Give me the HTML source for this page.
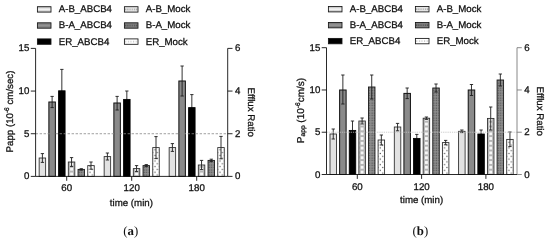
<!DOCTYPE html>
<html><head><meta charset="utf-8"><title>Figure</title>
<style>
html,body{margin:0;padding:0;background:#fff;}
svg{display:block;}
text{text-rendering:geometricPrecision;font-family:"Liberation Sans",Arial,sans-serif;font-size:9.7px;fill:#111;stroke:#111;stroke-width:0.28px;}
.cap{font-family:"Liberation Serif","Times New Roman",serif;font-size:12.8px;fill:#111;stroke:none;}
</style></head>
<body>
<svg width="550" height="240" viewBox="0 0 550 240">
<defs>
<pattern id="pABm" width="6.5" height="4.8" patternUnits="userSpaceOnUse"><rect width="6.5" height="4.8" fill="#b6b6b6"/><rect x="1.8" y="1" width="2.9" height="2.8" fill="#f8f8f8"/><rect x="-1" y="3.4" width="2" height="1.4" fill="#d4d4d4"/><rect x="5.5" y="3.4" width="2" height="1.4" fill="#d4d4d4"/><rect x="-1" y="0" width="2" height="0.6" fill="#d4d4d4"/><rect x="5.5" y="0" width="2" height="0.6" fill="#d4d4d4"/></pattern>
<pattern id="pBAm" width="2.5" height="2.5" patternUnits="userSpaceOnUse"><rect width="2.5" height="2.5" fill="#8e8e8e"/><rect x="0.5" y="0.5" width="1.25" height="1.25" fill="#565656"/></pattern>
<pattern id="pERm" width="4.8" height="5.6" patternUnits="userSpaceOnUse"><rect width="4.8" height="5.6" fill="#fff"/><rect x="1.6" y="0.8" width="1.2" height="1.2" fill="#555"/><rect x="4" y="3.6" width="1.2" height="1.2" fill="#555"/><rect x="-0.8" y="3.6" width="1.2" height="1.2" fill="#555"/></pattern>
<pattern id="lABm" width="2.2" height="5.4" patternUnits="userSpaceOnUse"><rect width="2.2" height="5.4" fill="#e6e6e6"/><rect x="0.7" y="2.2" width="1.1" height="1.1" fill="#8a8a8a"/></pattern>
<pattern id="lBAm" width="2.2" height="5.4" patternUnits="userSpaceOnUse"><rect width="2.2" height="5.4" fill="#7e7e7e"/><rect x="0.7" y="2.1" width="1.1" height="1.3" fill="#484848"/></pattern>
<pattern id="lERm" width="2.6" height="5.4" patternUnits="userSpaceOnUse"><rect width="2.6" height="5.4" fill="#fff"/><rect x="0.9" y="2.2" width="1" height="1" fill="#a0a0a0"/></pattern>
<pattern id="lAB" width="4" height="5.4" patternUnits="userSpaceOnUse"><rect width="4" height="5.4" fill="#c4c4c4"/><rect y="1.5" width="4" height="2.4" fill="#f2f2f2"/></pattern>
<pattern id="lBA" width="4" height="5.4" patternUnits="userSpaceOnUse"><rect width="4" height="5.4" fill="#808080"/><rect y="2.1" width="4" height="1.2" fill="#9c9c9c"/></pattern>
</defs>
<rect width="550" height="240" fill="#fff"/>
<path d="M42.40 153.60V162.40M40.75 153.60h3.3M40.75 162.40h3.3" stroke="#1c1c1c" stroke-width="0.9" fill="none"/>
<rect transform="translate(39.15 176.40)" x="0" y="-18.40" width="6.5" height="18.40" fill="#e2e2e2" stroke="#2a2a2a" stroke-width="0.85"/>
<path d="M42.40 158.00V162.40M40.75 162.40h3.3" stroke="#1c1c1c" stroke-width="0.9" fill="none"/>
<path d="M52.12 96.40V107.60M50.47 96.40h3.3M50.47 107.60h3.3" stroke="#1c1c1c" stroke-width="0.9" fill="none"/>
<rect transform="translate(48.87 176.40)" x="0" y="-74.40" width="6.5" height="74.40" fill="#8a8a8a" stroke="#101010" stroke-width="1.0"/>
<path d="M52.12 102.00V107.60M50.47 107.60h3.3" stroke="#1c1c1c" stroke-width="0.9" fill="none"/>
<path d="M61.84 69.40V112.00M60.19 69.40h3.3M60.19 112.00h3.3" stroke="#1c1c1c" stroke-width="0.9" fill="none"/>
<rect transform="translate(58.59 176.40)" x="0" y="-85.60" width="6.5" height="85.60" fill="#000" stroke="#000" stroke-width="0.85"/>
<path d="M71.56 157.60V166.40M69.91 157.60h3.3M69.91 166.40h3.3" stroke="#1c1c1c" stroke-width="0.9" fill="none"/>
<rect transform="translate(68.31 176.40)" x="0" y="-14.40" width="6.5" height="14.40" fill="url(#pABm)" stroke="#2a2a2a" stroke-width="0.85"/>
<path d="M71.56 162.00V166.40M69.91 166.40h3.3" stroke="#1c1c1c" stroke-width="0.9" fill="none"/>
<path d="M81.28 168.70V170.10M79.63 168.70h3.3M79.63 170.10h3.3" stroke="#1c1c1c" stroke-width="0.9" fill="none"/>
<rect transform="translate(78.03 176.40)" x="0" y="-7.00" width="6.5" height="7.00" fill="url(#pBAm)" stroke="#1a1a1a" stroke-width="0.9"/>
<path d="M81.28 169.40V170.10M79.63 170.10h3.3" stroke="#1c1c1c" stroke-width="0.9" fill="none"/>
<path d="M91.00 162.00V169.20M89.35 162.00h3.3M89.35 169.20h3.3" stroke="#1c1c1c" stroke-width="0.9" fill="none"/>
<rect transform="translate(87.75 176.40)" x="0" y="-10.80" width="6.5" height="10.80" fill="url(#pERm)" stroke="#2a2a2a" stroke-width="0.85"/>
<path d="M91.00 165.60V169.20M89.35 169.20h3.3" stroke="#1c1c1c" stroke-width="0.9" fill="none"/>
<path d="M107.40 153.00V160.00M105.75 153.00h3.3M105.75 160.00h3.3" stroke="#1c1c1c" stroke-width="0.9" fill="none"/>
<rect transform="translate(104.15 176.40)" x="0" y="-19.80" width="6.5" height="19.80" fill="#e2e2e2" stroke="#2a2a2a" stroke-width="0.85"/>
<path d="M107.40 156.60V160.00M105.75 160.00h3.3" stroke="#1c1c1c" stroke-width="0.9" fill="none"/>
<path d="M117.12 96.40V110.00M115.47 96.40h3.3M115.47 110.00h3.3" stroke="#1c1c1c" stroke-width="0.9" fill="none"/>
<rect transform="translate(113.87 176.40)" x="0" y="-73.40" width="6.5" height="73.40" fill="#8a8a8a" stroke="#101010" stroke-width="1.0"/>
<path d="M117.12 103.00V110.00M115.47 110.00h3.3" stroke="#1c1c1c" stroke-width="0.9" fill="none"/>
<path d="M126.84 91.00V108.00M125.19 91.00h3.3M125.19 108.00h3.3" stroke="#1c1c1c" stroke-width="0.9" fill="none"/>
<rect transform="translate(123.59 176.40)" x="0" y="-77.00" width="6.5" height="77.00" fill="#000" stroke="#000" stroke-width="0.85"/>
<path d="M136.56 165.60V171.60M134.91 165.60h3.3M134.91 171.60h3.3" stroke="#1c1c1c" stroke-width="0.9" fill="none"/>
<rect transform="translate(133.31 176.40)" x="0" y="-7.80" width="6.5" height="7.80" fill="url(#pABm)" stroke="#2a2a2a" stroke-width="0.85"/>
<path d="M136.56 168.60V171.60M134.91 171.60h3.3" stroke="#1c1c1c" stroke-width="0.9" fill="none"/>
<path d="M146.28 164.60V166.60M144.63 164.60h3.3M144.63 166.60h3.3" stroke="#1c1c1c" stroke-width="0.9" fill="none"/>
<rect transform="translate(143.03 176.40)" x="0" y="-10.80" width="6.5" height="10.80" fill="url(#pBAm)" stroke="#1a1a1a" stroke-width="0.9"/>
<path d="M146.28 165.60V166.60M144.63 166.60h3.3" stroke="#1c1c1c" stroke-width="0.9" fill="none"/>
<path d="M156.00 136.60V158.60M154.35 136.60h3.3M154.35 158.60h3.3" stroke="#1c1c1c" stroke-width="0.9" fill="none"/>
<rect transform="translate(152.75 176.40)" x="0" y="-28.80" width="6.5" height="28.80" fill="url(#pERm)" stroke="#2a2a2a" stroke-width="0.85"/>
<path d="M156.00 147.60V158.60M154.35 158.60h3.3" stroke="#1c1c1c" stroke-width="0.9" fill="none"/>
<path d="M172.40 143.60V151.40M170.75 143.60h3.3M170.75 151.40h3.3" stroke="#1c1c1c" stroke-width="0.9" fill="none"/>
<rect transform="translate(169.15 176.40)" x="0" y="-28.80" width="6.5" height="28.80" fill="#e2e2e2" stroke="#2a2a2a" stroke-width="0.85"/>
<path d="M172.40 147.60V151.40M170.75 151.40h3.3" stroke="#1c1c1c" stroke-width="0.9" fill="none"/>
<path d="M182.12 66.00V96.00M180.47 66.00h3.3M180.47 96.00h3.3" stroke="#1c1c1c" stroke-width="0.9" fill="none"/>
<rect transform="translate(178.87 176.40)" x="0" y="-95.40" width="6.5" height="95.40" fill="#8a8a8a" stroke="#101010" stroke-width="1.0"/>
<path d="M182.12 81.00V96.00M180.47 96.00h3.3" stroke="#1c1c1c" stroke-width="0.9" fill="none"/>
<path d="M191.84 94.60V120.00M190.19 94.60h3.3M190.19 120.00h3.3" stroke="#1c1c1c" stroke-width="0.9" fill="none"/>
<rect transform="translate(188.59 176.40)" x="0" y="-68.80" width="6.5" height="68.80" fill="#000" stroke="#000" stroke-width="0.85"/>
<path d="M201.56 160.40V169.60M199.91 160.40h3.3M199.91 169.60h3.3" stroke="#1c1c1c" stroke-width="0.9" fill="none"/>
<rect transform="translate(198.31 176.40)" x="0" y="-11.40" width="6.5" height="11.40" fill="url(#pABm)" stroke="#2a2a2a" stroke-width="0.85"/>
<path d="M201.56 165.00V169.60M199.91 169.60h3.3" stroke="#1c1c1c" stroke-width="0.9" fill="none"/>
<path d="M211.28 159.20V161.60M209.63 159.20h3.3M209.63 161.60h3.3" stroke="#1c1c1c" stroke-width="0.9" fill="none"/>
<rect transform="translate(208.03 176.40)" x="0" y="-16.00" width="6.5" height="16.00" fill="url(#pBAm)" stroke="#1a1a1a" stroke-width="0.9"/>
<path d="M211.28 160.40V161.60M209.63 161.60h3.3" stroke="#1c1c1c" stroke-width="0.9" fill="none"/>
<path d="M221.00 136.40V158.80M219.35 136.40h3.3M219.35 158.80h3.3" stroke="#1c1c1c" stroke-width="0.9" fill="none"/>
<rect transform="translate(217.75 176.40)" x="0" y="-28.80" width="6.5" height="28.80" fill="url(#pERm)" stroke="#2a2a2a" stroke-width="0.85"/>
<path d="M221.00 147.60V158.80M219.35 158.80h3.3" stroke="#1c1c1c" stroke-width="0.9" fill="none"/>
<line x1="35.6" y1="133.73" x2="227.7" y2="133.73" stroke="#888" stroke-width="0.8" stroke-dasharray="2.4 1.6"/>
<path d="M227.7 176.40V48.40" stroke="#111" stroke-width="0.9" fill="none"/>
<path d="M35.6 48.40V176.40H227.7" stroke="#111" stroke-width="0.9" fill="none"/>
<line x1="30.80" y1="176.40" x2="35.6" y2="176.40" stroke="#111" stroke-width="0.9"/>
<text x="29.40" y="179.40" text-anchor="end">0</text>
<line x1="30.80" y1="133.73" x2="35.6" y2="133.73" stroke="#111" stroke-width="0.9"/>
<text x="29.40" y="136.73" text-anchor="end">5</text>
<line x1="30.80" y1="91.07" x2="35.6" y2="91.07" stroke="#111" stroke-width="0.9"/>
<text x="29.40" y="94.07" text-anchor="end">10</text>
<line x1="30.80" y1="48.40" x2="35.6" y2="48.40" stroke="#111" stroke-width="0.9"/>
<text x="29.40" y="51.40" text-anchor="end">15</text>
<line x1="227.7" y1="176.40" x2="232.5" y2="176.40" stroke="#111" stroke-width="0.9"/>
<text x="234.90" y="179.40">0</text>
<line x1="227.7" y1="133.73" x2="232.5" y2="133.73" stroke="#111" stroke-width="0.9"/>
<text x="234.90" y="136.73">2</text>
<line x1="227.7" y1="91.07" x2="232.5" y2="91.07" stroke="#111" stroke-width="0.9"/>
<text x="234.90" y="94.07">4</text>
<line x1="227.7" y1="48.40" x2="232.5" y2="48.40" stroke="#111" stroke-width="0.9"/>
<text x="234.90" y="51.40">6</text>
<line x1="66.7" y1="176.40" x2="66.7" y2="180.80" stroke="#111" stroke-width="0.9"/>
<text x="66.7" y="191.1" text-anchor="middle">60</text>
<line x1="131.7" y1="176.40" x2="131.7" y2="180.80" stroke="#111" stroke-width="0.9"/>
<text x="131.7" y="191.1" text-anchor="middle">120</text>
<line x1="196.7" y1="176.40" x2="196.7" y2="180.80" stroke="#111" stroke-width="0.9"/>
<text x="196.7" y="191.1" text-anchor="middle">180</text>
<text x="131.4" y="205.6" text-anchor="middle">time (min)</text>
<text transform="translate(12.7 111.5) rotate(-90)" text-anchor="middle">Papp (10<tspan dy="-4" font-size="6.6">-6</tspan><tspan dy="4"> cm/sec)</tspan></text>
<text transform="translate(248.0 112.2) rotate(90)" text-anchor="middle">Efflux Ratio</text>
<rect transform="translate(37.40 6.70)" width="13.6" height="5.4" fill="url(#lAB)" stroke="#141414" stroke-width="0.85"/>
<text x="58.70" y="12.30">A-B_ABCB4</text>
<rect transform="translate(37.40 22.80)" width="13.6" height="5.4" fill="url(#lBA)" stroke="#141414" stroke-width="0.85"/>
<text x="58.70" y="28.40">B-A_ABCB4</text>
<rect transform="translate(37.40 38.90)" width="13.6" height="5.4" fill="#000" stroke="#141414" stroke-width="0.85"/>
<text x="58.70" y="44.50">ER_ABCB4</text>
<rect transform="translate(124.40 6.70)" width="13.6" height="5.4" fill="url(#lABm)" stroke="#141414" stroke-width="0.85"/>
<text x="145.70" y="12.30">A-B_Mock</text>
<rect transform="translate(124.40 22.80)" width="13.6" height="5.4" fill="url(#lBAm)" stroke="#141414" stroke-width="0.85"/>
<text x="145.70" y="28.40">B-A_Mock</text>
<rect transform="translate(124.40 38.90)" width="13.6" height="5.4" fill="url(#lERm)" stroke="#141414" stroke-width="0.85"/>
<text x="145.70" y="44.50">ER_Mock</text>
<path d="M333.25 129.00V139.00M331.60 129.00h3.3M331.60 139.00h3.3" stroke="#1c1c1c" stroke-width="0.9" fill="none"/>
<rect transform="translate(330.00 174.50)" x="0" y="-40.50" width="6.5" height="40.50" fill="#e2e2e2" stroke="#2a2a2a" stroke-width="0.85"/>
<path d="M333.25 134.00V139.00M331.60 139.00h3.3" stroke="#1c1c1c" stroke-width="0.9" fill="none"/>
<path d="M342.87 75.00V104.00M341.22 75.00h3.3M341.22 104.00h3.3" stroke="#1c1c1c" stroke-width="0.9" fill="none"/>
<rect transform="translate(339.62 174.50)" x="0" y="-84.50" width="6.5" height="84.50" fill="#8a8a8a" stroke="#101010" stroke-width="1.0"/>
<path d="M342.87 90.00V104.00M341.22 104.00h3.3" stroke="#1c1c1c" stroke-width="0.9" fill="none"/>
<path d="M352.49 121.00V140.00M350.84 121.00h3.3M350.84 140.00h3.3" stroke="#1c1c1c" stroke-width="0.9" fill="none"/>
<rect transform="translate(349.24 174.50)" x="0" y="-44.10" width="6.5" height="44.10" fill="#000" stroke="#000" stroke-width="0.85"/>
<path d="M362.11 118.00V124.00M360.46 118.00h3.3M360.46 124.00h3.3" stroke="#1c1c1c" stroke-width="0.9" fill="none"/>
<rect transform="translate(358.86 174.50)" x="0" y="-53.50" width="6.5" height="53.50" fill="url(#pABm)" stroke="#2a2a2a" stroke-width="0.85"/>
<path d="M362.11 121.00V124.00M360.46 124.00h3.3" stroke="#1c1c1c" stroke-width="0.9" fill="none"/>
<path d="M371.73 75.00V99.00M370.08 75.00h3.3M370.08 99.00h3.3" stroke="#1c1c1c" stroke-width="0.9" fill="none"/>
<rect transform="translate(368.48 174.50)" x="0" y="-87.50" width="6.5" height="87.50" fill="url(#pBAm)" stroke="#1a1a1a" stroke-width="0.9"/>
<path d="M371.73 87.00V99.00M370.08 99.00h3.3" stroke="#1c1c1c" stroke-width="0.9" fill="none"/>
<path d="M381.35 135.00V145.00M379.70 135.00h3.3M379.70 145.00h3.3" stroke="#1c1c1c" stroke-width="0.9" fill="none"/>
<rect transform="translate(378.10 174.50)" x="0" y="-34.50" width="6.5" height="34.50" fill="url(#pERm)" stroke="#2a2a2a" stroke-width="0.85"/>
<path d="M381.35 140.00V145.00M379.70 145.00h3.3" stroke="#1c1c1c" stroke-width="0.9" fill="none"/>
<path d="M397.55 123.40V130.80M395.90 123.40h3.3M395.90 130.80h3.3" stroke="#1c1c1c" stroke-width="0.9" fill="none"/>
<rect transform="translate(394.30 174.50)" x="0" y="-47.50" width="6.5" height="47.50" fill="#e2e2e2" stroke="#2a2a2a" stroke-width="0.85"/>
<path d="M397.55 127.00V130.80M395.90 130.80h3.3" stroke="#1c1c1c" stroke-width="0.9" fill="none"/>
<path d="M407.17 88.00V98.60M405.52 88.00h3.3M405.52 98.60h3.3" stroke="#1c1c1c" stroke-width="0.9" fill="none"/>
<rect transform="translate(403.92 174.50)" x="0" y="-81.10" width="6.5" height="81.10" fill="#8a8a8a" stroke="#101010" stroke-width="1.0"/>
<path d="M407.17 93.40V98.60M405.52 98.60h3.3" stroke="#1c1c1c" stroke-width="0.9" fill="none"/>
<path d="M416.79 134.40V142.00M415.14 134.40h3.3M415.14 142.00h3.3" stroke="#1c1c1c" stroke-width="0.9" fill="none"/>
<rect transform="translate(413.54 174.50)" x="0" y="-36.10" width="6.5" height="36.10" fill="#000" stroke="#000" stroke-width="0.85"/>
<path d="M426.41 117.00V119.40M424.76 117.00h3.3M424.76 119.40h3.3" stroke="#1c1c1c" stroke-width="0.9" fill="none"/>
<rect transform="translate(423.16 174.50)" x="0" y="-56.30" width="6.5" height="56.30" fill="url(#pABm)" stroke="#2a2a2a" stroke-width="0.85"/>
<path d="M426.41 118.20V119.40M424.76 119.40h3.3" stroke="#1c1c1c" stroke-width="0.9" fill="none"/>
<path d="M436.03 84.00V92.00M434.38 84.00h3.3M434.38 92.00h3.3" stroke="#1c1c1c" stroke-width="0.9" fill="none"/>
<rect transform="translate(432.78 174.50)" x="0" y="-86.50" width="6.5" height="86.50" fill="url(#pBAm)" stroke="#1a1a1a" stroke-width="0.9"/>
<path d="M436.03 88.00V92.00M434.38 92.00h3.3" stroke="#1c1c1c" stroke-width="0.9" fill="none"/>
<path d="M445.65 140.40V144.80M444.00 140.40h3.3M444.00 144.80h3.3" stroke="#1c1c1c" stroke-width="0.9" fill="none"/>
<rect transform="translate(442.40 174.50)" x="0" y="-31.90" width="6.5" height="31.90" fill="url(#pERm)" stroke="#2a2a2a" stroke-width="0.85"/>
<path d="M445.65 142.60V144.80M444.00 144.80h3.3" stroke="#1c1c1c" stroke-width="0.9" fill="none"/>
<path d="M461.85 130.00V132.60M460.20 130.00h3.3M460.20 132.60h3.3" stroke="#1c1c1c" stroke-width="0.9" fill="none"/>
<rect transform="translate(458.60 174.50)" x="0" y="-43.20" width="6.5" height="43.20" fill="#e2e2e2" stroke="#2a2a2a" stroke-width="0.85"/>
<path d="M461.85 131.30V132.60M460.20 132.60h3.3" stroke="#1c1c1c" stroke-width="0.9" fill="none"/>
<path d="M471.47 84.50V95.50M469.82 84.50h3.3M469.82 95.50h3.3" stroke="#1c1c1c" stroke-width="0.9" fill="none"/>
<rect transform="translate(468.22 174.50)" x="0" y="-84.50" width="6.5" height="84.50" fill="#8a8a8a" stroke="#101010" stroke-width="1.0"/>
<path d="M471.47 90.00V95.50M469.82 95.50h3.3" stroke="#1c1c1c" stroke-width="0.9" fill="none"/>
<path d="M481.09 130.00V138.00M479.44 130.00h3.3M479.44 138.00h3.3" stroke="#1c1c1c" stroke-width="0.9" fill="none"/>
<rect transform="translate(477.84 174.50)" x="0" y="-40.50" width="6.5" height="40.50" fill="#000" stroke="#000" stroke-width="0.85"/>
<path d="M490.71 107.00V130.00M489.06 107.00h3.3M489.06 130.00h3.3" stroke="#1c1c1c" stroke-width="0.9" fill="none"/>
<rect transform="translate(487.46 174.50)" x="0" y="-56.10" width="6.5" height="56.10" fill="url(#pABm)" stroke="#2a2a2a" stroke-width="0.85"/>
<path d="M490.71 118.40V130.00M489.06 130.00h3.3" stroke="#1c1c1c" stroke-width="0.9" fill="none"/>
<path d="M500.33 74.00V86.00M498.68 74.00h3.3M498.68 86.00h3.3" stroke="#1c1c1c" stroke-width="0.9" fill="none"/>
<rect transform="translate(497.08 174.50)" x="0" y="-94.50" width="6.5" height="94.50" fill="url(#pBAm)" stroke="#1a1a1a" stroke-width="0.9"/>
<path d="M500.33 80.00V86.00M498.68 86.00h3.3" stroke="#1c1c1c" stroke-width="0.9" fill="none"/>
<path d="M509.95 132.00V146.60M508.30 132.00h3.3M508.30 146.60h3.3" stroke="#1c1c1c" stroke-width="0.9" fill="none"/>
<rect transform="translate(506.70 174.50)" x="0" y="-35.10" width="6.5" height="35.10" fill="url(#pERm)" stroke="#2a2a2a" stroke-width="0.85"/>
<path d="M509.95 139.40V146.60M508.30 146.60h3.3" stroke="#1c1c1c" stroke-width="0.9" fill="none"/>
<line x1="326.5" y1="132.23" x2="517" y2="132.23" stroke="#c2c2c2" stroke-width="0.8" stroke-dasharray="1.3 0.9"/>
<path d="M517 174.50V47.70" stroke="#7c7c7c" stroke-width="0.9" fill="none"/>
<path d="M326.5 47.70V174.50H517" stroke="#111" stroke-width="0.9" fill="none"/>
<line x1="321.70" y1="174.50" x2="326.5" y2="174.50" stroke="#111" stroke-width="0.9"/>
<text x="320.30" y="177.50" text-anchor="end">0</text>
<line x1="321.70" y1="132.23" x2="326.5" y2="132.23" stroke="#111" stroke-width="0.9"/>
<text x="320.30" y="135.23" text-anchor="end">5</text>
<line x1="321.70" y1="89.97" x2="326.5" y2="89.97" stroke="#111" stroke-width="0.9"/>
<text x="320.30" y="92.97" text-anchor="end">10</text>
<line x1="321.70" y1="47.70" x2="326.5" y2="47.70" stroke="#111" stroke-width="0.9"/>
<text x="320.30" y="50.70" text-anchor="end">15</text>
<line x1="517" y1="174.50" x2="521.8" y2="174.50" stroke="#7c7c7c" stroke-width="0.9"/>
<text x="524.20" y="177.50">0</text>
<line x1="517" y1="132.23" x2="521.8" y2="132.23" stroke="#7c7c7c" stroke-width="0.9"/>
<text x="524.20" y="135.23">2</text>
<line x1="517" y1="89.97" x2="521.8" y2="89.97" stroke="#7c7c7c" stroke-width="0.9"/>
<text x="524.20" y="92.97">4</text>
<line x1="517" y1="47.70" x2="521.8" y2="47.70" stroke="#7c7c7c" stroke-width="0.9"/>
<text x="524.20" y="50.70">6</text>
<line x1="357.3" y1="174.50" x2="357.3" y2="178.90" stroke="#111" stroke-width="0.9"/>
<text x="357.3" y="189.8" text-anchor="middle">60</text>
<line x1="421.6" y1="174.50" x2="421.6" y2="178.90" stroke="#111" stroke-width="0.9"/>
<text x="421.6" y="189.8" text-anchor="middle">120</text>
<line x1="485.9" y1="174.50" x2="485.9" y2="178.90" stroke="#111" stroke-width="0.9"/>
<text x="485.9" y="189.8" text-anchor="middle">180</text>
<text x="421.6" y="203.1" text-anchor="middle">time (min)</text>
<text transform="translate(303.8 110.5) rotate(-90)" text-anchor="middle"><tspan font-size="10">P</tspan><tspan dy="1.5" font-size="6.6">app</tspan><tspan dy="-1.5" font-size="10"> (10</tspan><tspan dy="-3.8" font-size="6.6">-6</tspan><tspan dy="3.8" font-size="10">cm/s)</tspan></text>
<text transform="translate(537.0 111.2) rotate(90)" text-anchor="middle">Efflux Ratio</text>
<rect transform="translate(328.40 6.50)" width="13.6" height="5.4" fill="url(#lAB)" stroke="#141414" stroke-width="0.85"/>
<text x="349.70" y="12.10">A-B_ABCB4</text>
<rect transform="translate(328.40 22.45)" width="13.6" height="5.4" fill="url(#lBA)" stroke="#141414" stroke-width="0.85"/>
<text x="349.70" y="28.05">B-A_ABCB4</text>
<rect transform="translate(328.40 38.40)" width="13.6" height="5.4" fill="#000" stroke="#141414" stroke-width="0.85"/>
<text x="349.70" y="44.00">ER_ABCB4</text>
<rect transform="translate(415.40 6.50)" width="13.6" height="5.4" fill="url(#lABm)" stroke="#141414" stroke-width="0.85"/>
<text x="436.70" y="12.10">A-B_Mock</text>
<rect transform="translate(415.40 22.45)" width="13.6" height="5.4" fill="url(#lBAm)" stroke="#141414" stroke-width="0.85"/>
<text x="436.70" y="28.05">B-A_Mock</text>
<rect transform="translate(415.40 38.40)" width="13.6" height="5.4" fill="url(#lERm)" stroke="#141414" stroke-width="0.85"/>
<text x="436.70" y="44.00">ER_Mock</text>
<text class="cap" x="130.7" y="235" text-anchor="middle">(<tspan font-weight="bold">a</tspan>)</text>
<text class="cap" x="420.4" y="235.3" text-anchor="middle">(<tspan font-weight="bold">b</tspan>)</text>
</svg>
</body></html>
